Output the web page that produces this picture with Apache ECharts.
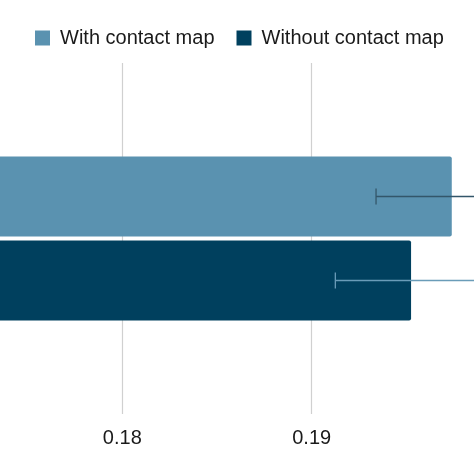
<!DOCTYPE html>
<html>
<head>
<meta charset="utf-8">
<script src="https://cdn.jsdelivr.net/npm/echarts@6/dist/echarts.min.js"></script>
<style>html,body{margin:0;padding:0;background:#fff}#c{width:474px;height:474px}</style>
</head>
<body>
<div id="c"></div>
<script>
var categories = ['Model'];
var seriesNames = ['With contact map', 'Without contact map'];
var withValues = [0.1974];
var withoutValues = [0.19525];
var withErrors = [0.0040];
var withoutErrors = [0.0040];
var tickMin = 0.17, tickMax = 0.20, tickStep = 0.01;

var colors = ['#5a92b0', '#00405e'];
var errColors = ['#33566a', '#6a9cb8'];

var chart = echarts.init(document.getElementById('c'));
var BAR_W = 80, GAP_RATIO = 0.05;

function errRender(seriesIdx, vals, errs) {
  return function (params, api) {
    var ci = api.value(0);
    var v = vals[ci], e = errs[ci];
    var center = api.coord([v, ci]);
    var half = BAR_W / 2 + BAR_W * GAP_RATIO / 2;
    var y = center[1] + (seriesIdx === 0 ? -half : half);
    var lo = api.coord([v - e, ci])[0];
    var hi = api.coord([v + e, ci])[0];
    var cap = 8;
    var st = { stroke: errColors[seriesIdx], lineWidth: 1.3 };
    return {
      type: 'group',
      children: [
        { type: 'line', shape: { x1: lo, y1: y, x2: hi, y2: y }, style: st },
        { type: 'line', shape: { x1: lo, y1: y - cap, x2: lo, y2: y + cap }, style: st },
        { type: 'line', shape: { x1: hi, y1: y - cap, x2: hi, y2: y + cap }, style: st }
      ]
    };
  };
}

chart.setOption({
  animation: false,
  backgroundColor: '#fff',
  textStyle: { fontFamily: 'Liberation Sans, Arial, sans-serif' },
  legend: {
    data: seriesNames,
    top: 28,
    left: 35,
    padding: 0,
    icon: 'rect',
    itemWidth: 15,
    itemHeight: 15,
    itemGap: 22,
    textStyle: { fontSize: 20, color: '#1a1a1a', padding: [0, 0, 0, 5] }
  },
  grid: { left: -67, right: -27, top: 63, bottom: 60, containLabel: false, outerBoundsMode: 'none' },
  xAxis: {
    type: 'value',
    min: tickMin,
    max: tickMax,
    interval: tickStep,
    axisLine: { show: false },
    axisTick: { show: false },
    splitLine: { show: true, lineStyle: { color: '#d0d0d0', width: 1.2 } },
    axisLabel: { fontSize: 20, color: '#1a1a1a', margin: 14, formatter: function (v) { return v.toFixed(2); } }
  },
  yAxis: {
    type: 'category',
    data: categories,
    inverse: true,
    axisLine: { show: false },
    axisTick: { show: false },
    axisLabel: { show: false }
  },
  series: [
    {
      name: seriesNames[0], type: 'bar', data: withValues, barWidth: BAR_W, barGap: '5%',
      itemStyle: { color: colors[0], borderRadius: 2 }
    },
    {
      name: seriesNames[1], type: 'bar', data: withoutValues, barWidth: BAR_W, barGap: '5%',
      itemStyle: { color: colors[1], borderRadius: 2 }
    },
    {
      type: 'custom', name: 'err1', data: categories.map(function (c, i) { return [i]; }),
      renderItem: errRender(0, withValues, withErrors), z: 10, clip: false
    },
    {
      type: 'custom', name: 'err2', data: categories.map(function (c, i) { return [i]; }),
      renderItem: errRender(1, withoutValues, withoutErrors), z: 10, clip: false
    }
  ]
});
</script>
</body>
</html>
